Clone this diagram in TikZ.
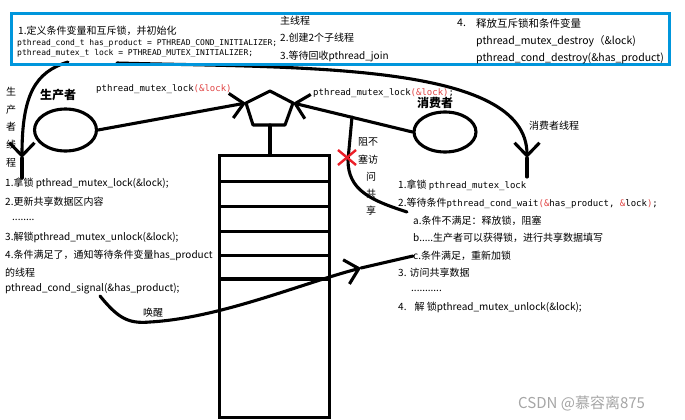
\documentclass[tikz,border=0pt]{standalone}
\usepackage{fontspec}
\setmainfont{Noto Sans CJK SC}
\setmonofont{DejaVu Sans Mono}
\usetikzlibrary{arrows.meta,shapes.geometric}
\definecolor{boxblue}{RGB}{0,150,220}
\definecolor{codered}{RGB}{225,70,70}
\definecolor{xred}{RGB}{235,30,40}
\newcommand{\redtxt}[1]{\textcolor{codered}{#1}}
\tikzset{
  thickline/.style={line width=3.1pt, line cap=round, line join=round},
  barb/.style={-{Straight Barb[length=13pt,width=25pt]}},
  txt/.style={anchor=west, inner sep=0pt, font=\fontsize{10}{12}\selectfont},
  bigtxt/.style={anchor=west, inner sep=0pt, font=\fontsize{10.5}{12}\selectfont},
  code/.style={anchor=west, inner sep=0pt, font=\ttfamily\fontsize{9}{11}\selectfont},
  smallcode/.style={anchor=west, inner sep=0pt, font=\ttfamily\fontsize{8}{10}\selectfont},
  vch/.style={inner sep=0pt, font=\fontsize{10}{12}\selectfont},
  head/.style={inner sep=0pt, font=\fontsize{12}{14}\selectfont\bfseries},
}
\begin{document}
\begin{tikzpicture}[x=1pt,y=-1pt]
\useasboundingbox (0,0) rectangle (685,420);
\fill[white] (0,0) rectangle (685,420);

% ---- curved thread arrows (behind the top box)
\coordinate (bigS) at (117,63);
\coordinate (bigA) at (527,158);
\coordinate (bigE) at (527,177);
\draw[thickline,barb] (bigS) .. controls (300,68) and (527,62) .. (bigA);
\draw[thickline] (bigA) -- (bigE);

\coordinate (prS) at (68,62);
\coordinate (prA) at (22,158);
\coordinate (prE) at (22,178);
\draw[thickline,barb] (prS) .. controls (35,72) and (22,95) .. (prA);
\draw[thickline] (prA) -- (prE);

% ---- top box
\node[draw=boxblue, line width=3pt, minimum width=658pt, minimum height=51pt,
      anchor=north west, inner sep=0pt] (topbox) at (10,12) {};
\node[txt] (t1) at (18,31) {1.定义条件变量和互斥锁，并初始化};
\node[smallcode] (t2) at (17,43) {pthread\_cond\_t has\_product = PTHREAD\_COND\_INITIALIZER;};
\node[smallcode] (t3) at (17,53) {pthread\_mutex\_t lock = PTHREAD\_MUTEX\_INITIALIZER;};
\node[txt] (m1) at (280,21) {主线程};
\node[txt] (m2) at (280,38) {2.创建2个子线程};
\node[txt] (m3) at (280,56) {3.等待回收pthread\_join};
\node[bigtxt] (r0) at (457,23) {4.};
\node[bigtxt] (r1) at (476,23) {释放互斥锁和条件变量};
\node[bigtxt] (r2) at (476,41) {pthread\_mutex\_destroy（\&lock)};
\node[bigtxt] (r3) at (476,58) {pthread\_cond\_destroy(\&has\_product)};

% ---- producer side
\node[vch] (v1) at (11,92) {生};
\node[vch] (v2) at (11,110) {产};
\node[vch] (v3) at (11,127) {者};
\node[vch] (v4) at (11,145) {线};
\node[vch] (v5) at (11,163) {程};
\node[head] (ph) at (58,95) {生产者};
\node[draw, ellipse, line width=3.1pt, minimum width=62pt, minimum height=42pt, inner sep=0pt] (prod) at (65.5,130) {};
\node[code] (pl) at (96,89) {pthread\_mutex\_lock\redtxt{(\&lock)}};

% ---- lock (pentagon)
\coordinate (pT) at (270,91);
\coordinate (pR) at (293,103);
\coordinate (pBR) at (285,125);
\coordinate (pBL) at (253,125);
\coordinate (pL) at (246,103);
\coordinate (pB) at (270,125);
\draw[thickline] (pT) -- (pR) -- (pBR) -- (pBL) -- (pL) -- cycle;

% ---- shared buffer
\node[draw, line width=3pt, minimum width=110pt, minimum height=262pt, inner sep=0pt, anchor=north west] (stack) at (218,154) {};
\foreach \yy in {181,206,231,255} \draw[line width=3pt] (218,\yy) -- (328,\yy);
\draw[line width=3.4pt] (218,279) -- (328,279);
\draw[thickline] (pB) -- (stack.north -| pB);

% ---- consumer side
\node[head] (ch) at (435,103) {消费者};
\node[draw, ellipse, line width=3.1pt, minimum width=62pt, minimum height=40pt, inner sep=0pt] (cons) at (445,132) {};
\node[code] (cl) at (313,93) {pthread\_mutex\_lock\redtxt{(\&lock)};};
\node[txt] (ct) at (529,126) {消费者线程};

% ---- lock arrows
\draw[thickline,barb] (prod.east) -- (pL);
\draw[thickline,barb] (cons.west) -- (pR);

% ---- blocked path
\coordinate (blS) at (352,117);
\coordinate (blM) at (348,160);
\coordinate (blE) at (407,212);
\draw[thickline] (blS) -- (blM) .. controls (348,190) and (370,200) .. (blE);
\draw[xred, line width=2.4pt] (338,150) -- (356,165);
\draw[xred, line width=2.4pt] (356,150) -- (338,165);
\node[txt] (b1) at (358,142) {阻不};
\node[txt] (b2) at (358,160) {塞访};
\node[txt] (b3) at (366,177) {问};
\node[txt] (b4) at (366,194) {共};
\node[txt] (b5) at (366,211) {享};

% ---- producer steps
\node[txt] (s1) at (5,183) {1.拿锁 pthread\_mutex\_lock(\&lock);};
\node[txt] (s2) at (5,202) {2.更新共享数据区内容};
\node[txt] (s3) at (12,220) {........};
\node[txt] (s4) at (5,237) {3.解锁pthread\_mutex\_unlock(\&lock);};
\node[txt] (s5) at (5,255) {4.条件满足了，通知等待条件变量has\_product};
\node[txt] (s6) at (5,273) {的线程};
\node[txt] (s7) at (5,289) {pthread\_cond\_signal(\&has\_product);};

% ---- consumer steps
\node[txt] (c1) at (398,185) {1.拿锁 \texttt{\fontsize{9}{11}\selectfont pthread\_mutex\_lock}};
\node[txt] (c2) at (398,203) {2.等待条件\texttt{\fontsize{9}{11}\selectfont pthread\_cond\_wait\redtxt{(\&}has\_product, \redtxt{\&}lock\redtxt{)};}};
\node[txt] (c3) at (413,221) {a.条件不满足：释放锁，阻塞};
\node[txt] (c4) at (413,238) {b.....生产者可以获得锁，进行共享数据填写};
\node[txt] (c5) at (413,256) {c.条件满足，重新加锁};
\node[txt] (c6) at (398,273) {3. 访问共享数据};
\node[txt] (c7) at (411,291) {...........};
\node[txt] (c8) at (398,307) {4.\hspace{8pt}解 锁pthread\_mutex\_unlock(\&lock);};

% ---- wake-up path
\coordinate (wkS) at (100,296);
\coordinate (wkA) at (361,268);
\draw[thickline,barb] (wkS) .. controls (118,318) and (128,324) .. (150,322)
      .. controls (220,318) and (300,284) .. (wkA);
\draw[thickline] (wkA) -- (c5.west);
\node[txt, anchor=center] (wk) at (153,313) {唤醒};

% ---- watermark
\node[anchor=west, inner sep=0pt, text=black!35, font=\fontsize{15}{17}\selectfont] (wm) at (518,403) {CSDN @慕容离875};
\end{tikzpicture}
\end{document}
